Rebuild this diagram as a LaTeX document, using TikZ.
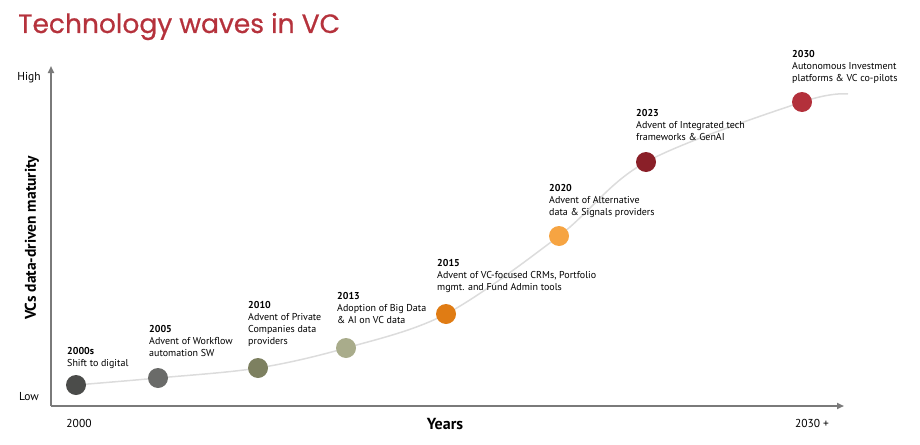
\documentclass[tikz,border=0pt]{standalone}
\usepackage{fontspec}
\setmainfont{PT Sans}
\newfontfamily\titlefont{Poppins}[FakeBold=0.6]
\usepackage{tikz}
\usetikzlibrary{arrows.meta}

\definecolor{titlered}{HTML}{B5323C}
\definecolor{axisgray}{HTML}{7A7A7A}
\definecolor{curvegray}{HTML}{DCDCDC}

\tikzset{
  axis/.style={draw=axisgray, line width=2pt, -{Triangle[length=7pt, width=6pt]}},
  wavedot/.style={circle, minimum size=20pt, inner sep=0pt},
  wavelabel/.style={anchor=north west, inner sep=0pt, align=left,
    font=\fontsize{10}{12}\selectfont},
  ticklabel/.style={font=\fontsize{11.5}{13}\selectfont}
}

\begin{document}
\begin{tikzpicture}[x=1pt, y=-1pt, >=Stealth]
    \useasboundingbox (0,0) rectangle (920,444);

    % title
    \node[anchor=base west, inner sep=0pt, text=titlered, font=\titlefont\fontsize{26.5}{30}\selectfont] (title) at (18,33) {Technology waves in VC};

    % axes
    \coordinate (origin) at (51,406);
    \coordinate (ytop) at (51,66);
    \coordinate (xend) at (844,406);
    \draw[axis] (origin) -- (ytop);
    \draw[axis] (origin) -- (xend);

    \node[ticklabel] (high) at (29,78) {High};
    \node[ticklabel] (low) at (29,397) {Low};
    \node[ticklabel] (start) at (79,423) {2000};
    \node[ticklabel] (end) at (812,423) {2030 +};
    \node[font=\bfseries\fontsize{16}{18}\selectfont] (years) at (445,424) {Years};
    \node[rotate=90, font=\bfseries\fontsize{15.5}{17}\selectfont] (maturity) at (32,238) {VCs data-driven maturity};

    % wave positions
    \coordinate (w1) at (76,385);
    \coordinate (w2) at (158,378);
    \coordinate (w3) at (258,368);
    \coordinate (w4) at (346,348);
    \coordinate (w5) at (446,314);
    \coordinate (w6) at (559,236);
    \coordinate (w7) at (646,162);
    \coordinate (w8) at (802,102);
    \coordinate (wend) at (848,94);

    \draw[curvegray, line width=1.5pt] plot[smooth, tension=0.55] coordinates {(w1) (w2) (w3) (w4) (w5) (w6) (w7) (w8) (wend)};

    \foreach \i/\col in {1/4B4C4A, 2/6A6B69, 3/7D8060, 4/A9AC8B, 5/E07C14, 6/F6A442, 7/8A1F28, 8/B3303B} {
      \definecolor{dotcol}{HTML}{\col}
      \node[wavedot, fill=dotcol] (dot\i) at (w\i) {};
    }

    % labels
    \node[wavelabel] (lab1) at (67,347) {\textbf{2000s}\\Shift to digital};
    \node[wavelabel] (lab2) at (149,325) {\textbf{2005}\\Advent of Workflow\\automation SW};
    \node[wavelabel] (lab3) at (248,301) {\textbf{2010}\\Advent of Private\\Companies data\\providers};
    \node[wavelabel] (lab4) at (337,292) {\textbf{2013}\\Adoption of Big Data\\\& AI on VC data};
    \node[wavelabel] (lab5) at (437,259) {\textbf{2015}\\Advent of VC-focused CRMs, Portfolio\\mgmt. and Fund Admin tools};
    \node[wavelabel] (lab6) at (549,184) {\textbf{2020}\\Advent of Alternative\\data \& Signals providers};
    \node[wavelabel] (lab7) at (636,109) {\textbf{2023}\\Advent of Integrated tech\\frameworks \& GenAI};
    \node[wavelabel] (lab8) at (792,50) {\textbf{2030}\\Autonomous Investment\\platforms \& VC co-pilots};
\end{tikzpicture}
\end{document}
